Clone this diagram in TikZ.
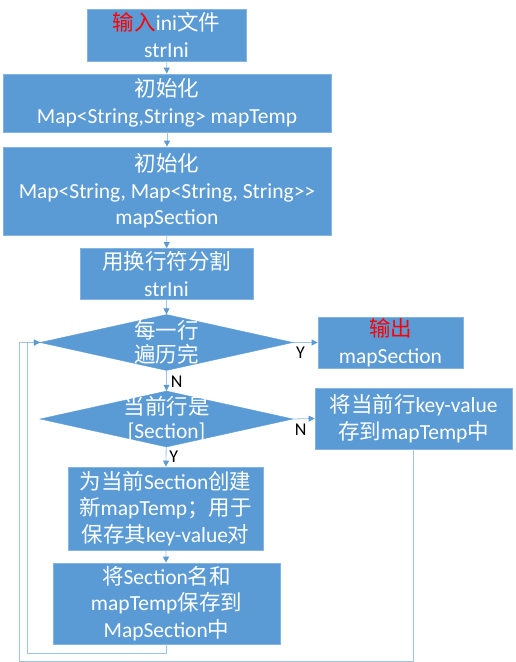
\documentclass[tikz,border=0pt]{standalone}
\usepackage{fontspec}
\setmainfont{Carlito}
\newfontfamily\cjk{Noto Sans CJK SC}
\usetikzlibrary{shapes.geometric,arrows.meta}
\definecolor{boxblue}{HTML}{5B9BD5}
\definecolor{lineblue}{HTML}{9DC3E6}
\definecolor{inred}{HTML}{FF0000}
\newcommand{\zh}[1]{{\cjk #1}}
\tikzset{
  box/.style={draw=boxblue!75!white, fill=boxblue, text=white, align=center, inner sep=0pt, line width=0.8pt, font=\fontsize{21.5}{26.5}\selectfont},
  decision/.style={diamond, draw=boxblue, fill=boxblue, inner sep=0pt, minimum width=253pt, minimum height=56pt},
  dtext/.style={text=white, align=center, inner sep=0pt, font=\fontsize{21.5}{24}\selectfont},
  arr/.style={draw=lineblue, line width=0.8pt, -{Triangle[length=6pt,width=6pt,color=boxblue,fill=boxblue]}},
  tag/.style={font=\fontsize{18}{20}\selectfont, inner sep=0pt}
}
\begin{document}
\begin{tikzpicture}[x=1pt,y=-1pt]
  \useasboundingbox (0,0) rectangle (515,662);
  \node[box, minimum width=159pt, minimum height=52pt] (in) at (166.5,35) {{\color{inred}\zh{输入}}ini\zh{文件}\\strIni};
  \node[box, minimum width=328pt, minimum height=58pt] (init1) at (167,103) {\zh{初始化}\\Map<String,String> mapTemp};
  \node[box, minimum width=328pt, minimum height=88pt] (init2) at (167,191) {\zh{初始化}\\Map<String, Map<String, String>{}>\\mapSection};
  \node[box, minimum width=173pt, minimum height=51pt] (split) at (166.5,274) {\zh{用换行符分割}\\strIni};
  \node[decision] (loop) at (166.5,342.5) {};
  \node[dtext] (looptx) at (loop) {\zh{每一行}\\\zh{遍历完}};
  \node[box, minimum width=145pt, minimum height=51pt] (out) at (390.5,342.5) {{\color{inred}\zh{输出}}\\mapSection};
  \node[decision] (check) at (166.5,419) {};
  \node[dtext] (checktx) at (check) {\zh{当前行是}\\{[Section]}};
  \node[box, minimum width=197pt, minimum height=61pt] (store) at (413.5,418.5) {\zh{将当前行}key-value\\\zh{存到}mapTemp\zh{中}};
  \node[box, minimum width=195pt, minimum height=83pt] (newmap) at (165.5,508.5) {\zh{为当前}Section\zh{创建}\\\zh{新}mapTemp\zh{；用于}\\\zh{保存其}key-value\zh{对}};
  \node[box, minimum width=227pt, minimum height=81pt] (save) at (166.5,603.5) {\zh{将}Section\zh{名和}\\mapTemp\zh{保存到}\\MapSection\zh{中}};
  \coordinate (bot1) at (0,653);
  \coordinate (bot2) at (0,661);
  \draw[arr] (in) -- (init1);
  \draw[arr] (init1) -- (init2);
  \draw[arr] (init2) -- (split);
  \draw[arr] (split) -- (loop);
  \draw[arr] (loop) -- node[tag, pos=0.55, anchor=west, xshift=4pt] (n1) {N} (check);
  \draw[arr] (loop.east) -- node[tag, pos=0.3, anchor=north, yshift=-4pt] (y1) {Y} (out.west);
  \draw[arr] (check.east) -- node[tag, pos=0.35, anchor=north, yshift=-5pt] (n2) {N} (store.west);
  \draw[arr] (check) -- node[tag, pos=0.5, anchor=west, xshift=3pt] (y2) {Y} (newmap);
  \draw[arr] (newmap) -- (save);
  \draw[arr] (save.south) -- (save.south |- bot1) -| ([xshift=-12pt]loop.west) -- (loop.west);
  \draw[arr] (store.south) -- (store.south |- bot2) -| ([xshift=-20pt]loop.west) -- (loop.west);
\end{tikzpicture}
\end{document}
